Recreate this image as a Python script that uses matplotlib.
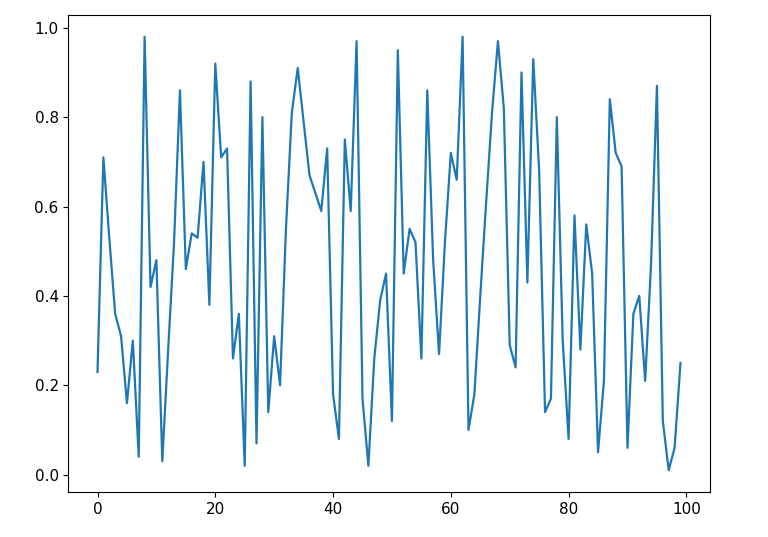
import matplotlib
matplotlib.use("Agg")
import matplotlib.pyplot as plt

x = list(range(100))
y = [0.23, 0.71, 0.53, 0.36, 0.31, 0.16, 0.30, 0.04, 0.98, 0.42,
     0.48, 0.03, 0.28, 0.52, 0.86, 0.46, 0.54, 0.53, 0.70, 0.38,
     0.92, 0.71, 0.73, 0.26, 0.36, 0.02, 0.88, 0.07, 0.80, 0.14,
     0.31, 0.20, 0.55, 0.81, 0.91, 0.79, 0.67, 0.63, 0.59, 0.73,
     0.18, 0.08, 0.75, 0.59, 0.97, 0.17, 0.02, 0.26, 0.39, 0.45,
     0.12, 0.95, 0.45, 0.55, 0.52, 0.26, 0.86, 0.48, 0.27, 0.52,
     0.72, 0.66, 0.98, 0.10, 0.18, 0.40, 0.61, 0.81, 0.97, 0.82,
     0.29, 0.24, 0.90, 0.43, 0.93, 0.68, 0.14, 0.17, 0.80, 0.30,
     0.08, 0.58, 0.28, 0.56, 0.45, 0.05, 0.21, 0.84, 0.72, 0.69,
     0.06, 0.36, 0.40, 0.21, 0.47, 0.87, 0.12, 0.01, 0.06, 0.25]

fig = plt.figure(figsize=(7.68, 5.37), dpi=100)
ax = fig.add_axes([0.089, 0.084, 0.835, 0.888])
ax.plot(x, y, color="#1f77b4", linewidth=1.6)
ax.tick_params(labelsize=11)
fig.savefig("out.png", dpi=100)
